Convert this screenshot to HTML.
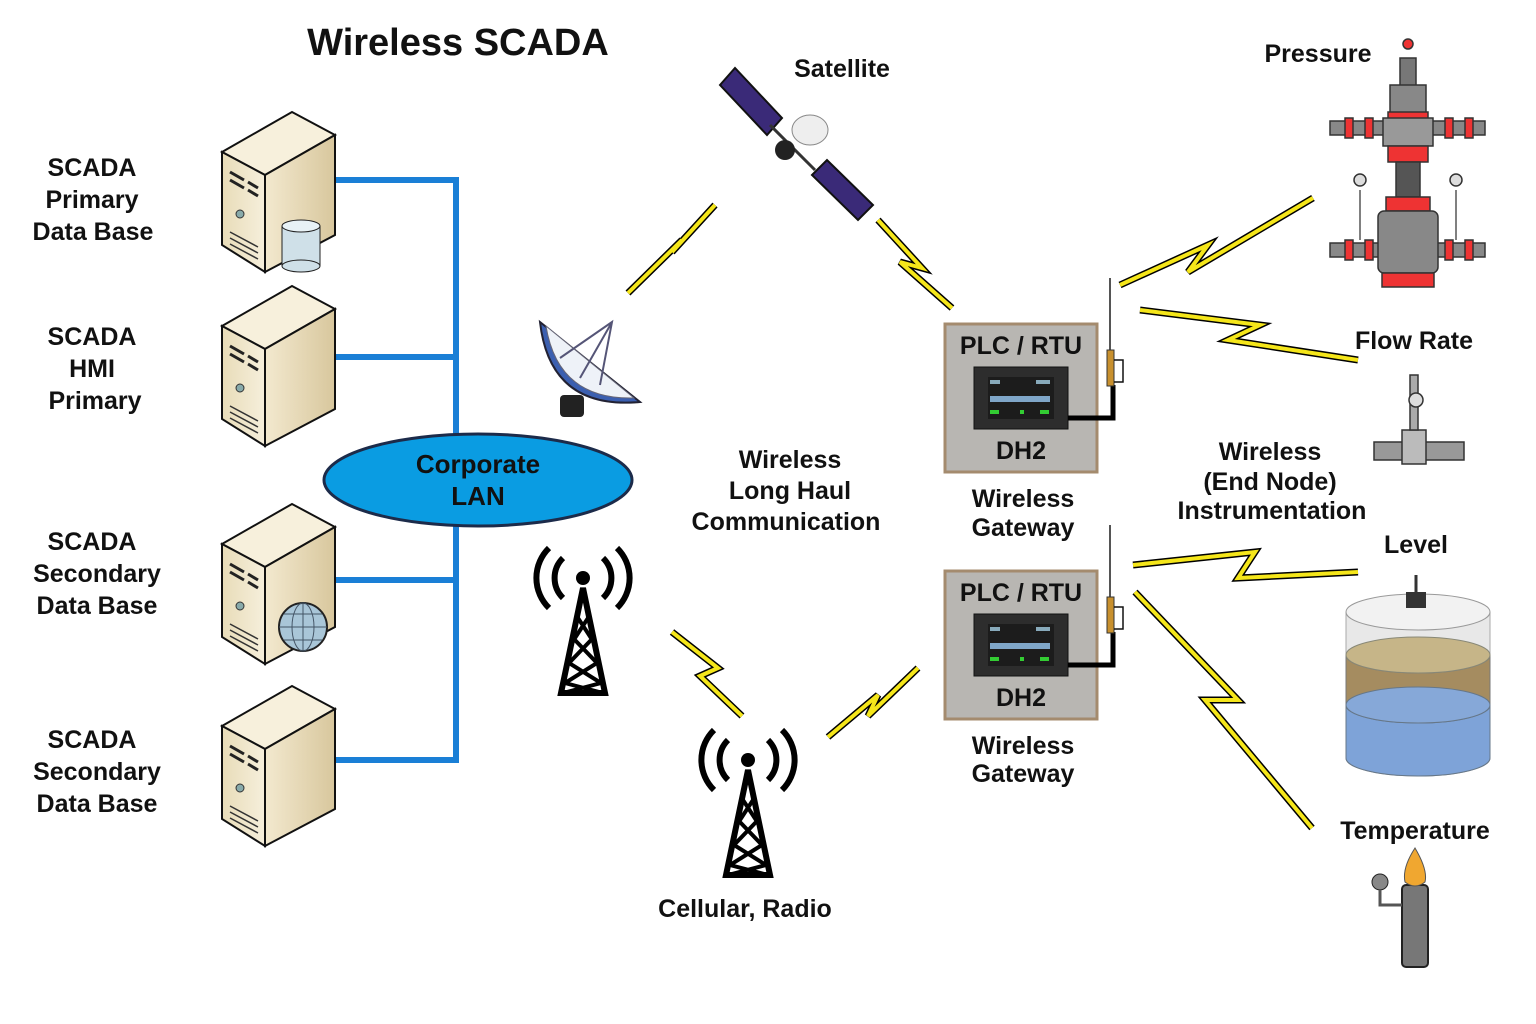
<!DOCTYPE html>
<html><head><meta charset="utf-8"><style>
html,body{margin:0;padding:0;background:#fff;}
svg{display:block;}
text{font-family:"Liberation Sans",sans-serif;font-weight:bold;fill:#111;}
</style></head><body>
<svg width="1536" height="1024" viewBox="0 0 1536 1024" xmlns="http://www.w3.org/2000/svg">
<defs>
<linearGradient id="sf" x1="0" x2="1"><stop offset="0" stop-color="#f3e9cf"/><stop offset="1" stop-color="#d8c79d"/></linearGradient>
<linearGradient id="sl" x1="0" x2="1"><stop offset="0" stop-color="#e8dcb8"/><stop offset="1" stop-color="#f6efdc"/></linearGradient>
<g id="srv">
<polygon points="222,152 292,112 335,135 265,175" fill="#f7f0dc" stroke="#111" stroke-width="2"/>
<polygon points="222,152 265,175 265,272 222,245" fill="url(#sl)" stroke="#111" stroke-width="2"/>
<polygon points="265,175 335,135 335,235 265,272" fill="url(#sf)" stroke="#111" stroke-width="2"/>
<path d="M230,172 l14,8 M230,180 l14,8 M248,182 l10,6 M248,190 l10,6" stroke="#222" stroke-width="3"/>
<circle cx="240" cy="214" r="4" fill="#8aa" stroke="#333"/>
<path d="M230,232 l28,15 M230,238 l28,15 M230,244 l28,15" stroke="#333" stroke-width="1.5"/>
</g>
<g id="plc">
<rect x="945" y="324" width="152" height="148" fill="#b8b6b2" stroke="#a48b6e" stroke-width="3"/>
<rect x="974" y="367" width="94" height="62" fill="#2d2d2d" stroke="#111"/>
<rect x="988" y="377" width="66" height="42" fill="#1c1c1c"/>
<rect x="990" y="396" width="60" height="6" fill="#7fa6c8"/>
<rect x="990" y="380" width="10" height="4" fill="#8ab"/><rect x="1036" y="380" width="14" height="4" fill="#8ab"/>
<rect x="990" y="410" width="9" height="4" fill="#3c3"/><rect x="1020" y="410" width="4" height="4" fill="#3c3"/><rect x="1040" y="410" width="9" height="4" fill="#3c3"/>
<text x="1021" y="354" font-size="25" text-anchor="middle">PLC / RTU</text>
<text x="1021" y="459" font-size="25" text-anchor="middle">DH2</text>
<path d="M1068,418 H1113 V385" stroke="#000" stroke-width="5" fill="none"/>
<line x1="1110" y1="278" x2="1110" y2="350" stroke="#555" stroke-width="2"/>
<rect x="1107" y="350" width="7" height="36" fill="#c8902e" stroke="#333"/>
<path d="M1114,360 h9 v22 h-9" stroke="#111" fill="none" stroke-width="1.5"/>
</g>
<g id="tower">
<polygon points="0,-5 -22,100 22,100" fill="none" stroke="#000" stroke-width="6"/>
<path d="M-10,45 L14,70 L-18,90 L20,100 M10,45 L-14,70 L18,90 L-20,100 M-5,25 L8,45 M5,25 L-8,45" stroke="#000" stroke-width="4" fill="none"/>
<circle cx="0" cy="-15" r="7" fill="#000"/>
<path d="M-20,-35 a28,28 0 0 0 0,40 M20,-35 a28,28 0 0 1 0,40 M-34,-45 a42,42 0 0 0 0,60 M34,-45 a42,42 0 0 1 0,60" stroke="#000" stroke-width="6" fill="none"/>
</g>
</defs>

<text x="458" y="55" font-size="38" text-anchor="middle">Wireless SCADA</text>

<path d="M335,180 H456 V760 H335 M335,357 H456 M335,580 H456" stroke="#1a7fd6" stroke-width="6" fill="none"/>
<use href="#srv"/>
<use href="#srv" transform="translate(0,174)"/>
<use href="#srv" transform="translate(0,392)"/>
<use href="#srv" transform="translate(0,574)"/>
<rect x="282" y="226" width="38" height="40" fill="#cfe0e8" stroke="#222"/>
<ellipse cx="301" cy="266" rx="19" ry="6" fill="#cfe0e8" stroke="#222"/>
<ellipse cx="301" cy="226" rx="19" ry="6" fill="#e8f2f6" stroke="#222"/>
<circle cx="303" cy="627" r="24" fill="#a9c6d8" stroke="#222" stroke-width="2"/>
<path d="M279,627 h48 M303,603 v48 M284,614 h38 M284,640 h38" stroke="#456" fill="none"/>
<ellipse cx="303" cy="627" rx="11" ry="24" fill="none" stroke="#456"/>

<ellipse cx="478" cy="480" rx="154" ry="46" fill="#0a9ce2" stroke="#1c2b4a" stroke-width="3"/>
<text x="478" y="473" font-size="26" text-anchor="middle">Corporate</text>
<text x="478" y="505" font-size="26" text-anchor="middle">LAN</text>

<g font-size="25" text-anchor="middle">
<text x="92" y="176">SCADA</text><text x="92" y="208">Primary</text><text x="93" y="240">Data Base</text>
<text x="92" y="345">SCADA</text><text x="92" y="377">HMI</text><text x="95" y="409">Primary</text>
<text x="92" y="550">SCADA</text><text x="97" y="582">Secondary</text><text x="97" y="614">Data Base</text>
<text x="92" y="748">SCADA</text><text x="97" y="780">Secondary</text><text x="97" y="812">Data Base</text>
<text x="790" y="468">Wireless</text><text x="790" y="499">Long Haul</text><text x="786" y="530">Communication</text>
<text x="842" y="77">Satellite</text>
<text x="745" y="917">Cellular, Radio</text>
<text x="1023" y="507">Wireless</text><text x="1023" y="536">Gateway</text>
<text x="1023" y="754">Wireless</text><text x="1023" y="782">Gateway</text>
<text x="1270" y="460">Wireless</text><text x="1270" y="490">(End Node)</text><text x="1272" y="519">Instrumentation</text>
<text x="1318" y="62">Pressure</text>
<text x="1414" y="349">Flow Rate</text>
<text x="1416" y="553">Level</text>
<text x="1415" y="839">Temperature</text>
</g>

<!-- satellite -->
<polygon points="720,85 735,68 782,118 767,135" fill="#3a2a78" stroke="#111" stroke-width="2"/>
<polygon points="812,175 827,160 873,205 858,220" fill="#3a2a78" stroke="#111" stroke-width="2"/>
<line x1="770" y1="125" x2="815" y2="170" stroke="#333" stroke-width="3"/>
<ellipse cx="810" cy="130" rx="18" ry="15" fill="#eee" stroke="#888"/>
<circle cx="785" cy="150" r="10" fill="#222"/>

<!-- dish -->
<path d="M540,322 Q550,410 640,402 Z" fill="#3b5fb0" stroke="#223" stroke-width="2"/>
<path d="M546,326 Q558,400 634,398 Z" fill="#eef2f8" stroke="#667"/>
<path d="M560,358 L612,322 L600,385 M612,322 L580,378" stroke="#557" stroke-width="2" fill="none"/>
<rect x="560" y="395" width="24" height="22" rx="4" fill="#222"/>

<use href="#tower" transform="translate(583,593)"/>
<use href="#tower" transform="translate(748,775)"/>

<use href="#plc"/>
<use href="#plc" transform="translate(0,247)"/>

<g fill="none" stroke-linejoin="miter">
<g stroke="#000" stroke-width="7">
<path d="M628,293 L682,240 L672,252 L715,205"/>
<path d="M878,220 L922,268 L900,262 L952,308"/>
<path d="M1120,285 L1208,245 L1188,272 L1313,198"/>
<path d="M1140,310 L1260,325 L1228,340 L1358,360"/>
<path d="M1133,565 L1255,552 L1238,578 L1358,572"/>
<path d="M1135,592 L1238,700 L1205,700 L1312,828"/>
<path d="M672,632 L718,668 L700,676 L742,716"/>
<path d="M828,737 L878,695 L868,716 L918,668"/>
</g>
<g stroke="#f5e61a" stroke-width="4">
<path d="M628,293 L682,240 L672,252 L715,205"/>
<path d="M878,220 L922,268 L900,262 L952,308"/>
<path d="M1120,285 L1208,245 L1188,272 L1313,198"/>
<path d="M1140,310 L1260,325 L1228,340 L1358,360"/>
<path d="M1133,565 L1255,552 L1238,578 L1358,572"/>
<path d="M1135,592 L1238,700 L1205,700 L1312,828"/>
<path d="M672,632 L718,668 L700,676 L742,716"/>
<path d="M828,737 L878,695 L868,716 L918,668"/>
</g>
</g>

<!-- pressure wellhead -->
<g stroke="#333" stroke-width="1.5">
<rect x="1330" y="121" width="155" height="14" fill="#888"/>
<rect x="1330" y="243" width="155" height="14" fill="#888"/>
<rect x="1345" y="118" width="8" height="20" fill="#e33"/><rect x="1365" y="118" width="8" height="20" fill="#e33"/>
<rect x="1445" y="118" width="8" height="20" fill="#e33"/><rect x="1465" y="118" width="8" height="20" fill="#e33"/>
<rect x="1345" y="240" width="8" height="20" fill="#e33"/><rect x="1365" y="240" width="8" height="20" fill="#e33"/>
<rect x="1445" y="240" width="8" height="20" fill="#e33"/><rect x="1465" y="240" width="8" height="20" fill="#e33"/>
<rect x="1400" y="58" width="16" height="30" fill="#777"/>
<rect x="1390" y="85" width="36" height="35" fill="#888"/>
<rect x="1388" y="112" width="40" height="8" fill="#e33"/>
<rect x="1383" y="118" width="50" height="28" fill="#999"/>
<rect x="1388" y="146" width="40" height="16" fill="#e33"/>
<rect x="1396" y="162" width="24" height="35" fill="#555"/>
<rect x="1386" y="197" width="44" height="14" fill="#e33"/>
<rect x="1378" y="211" width="60" height="62" rx="6" fill="#888"/>
<rect x="1382" y="273" width="52" height="14" fill="#e33"/>
<circle cx="1408" cy="44" r="5" fill="#e33"/>
<line x1="1360" y1="190" x2="1360" y2="240" stroke="#555"/><circle cx="1360" cy="180" r="6" fill="#ddd"/>
<line x1="1456" y1="190" x2="1456" y2="240" stroke="#555"/><circle cx="1456" cy="180" r="6" fill="#ddd"/>
</g>
<g stroke="#333" stroke-width="1.5">
<rect x="1374" y="442" width="90" height="18" fill="#999"/>
<rect x="1402" y="430" width="24" height="34" fill="#bbb"/>
<rect x="1410" y="375" width="8" height="55" fill="#aaa"/>
<circle cx="1416" cy="400" r="7" fill="#ddd"/>
</g>
<path d="M1346,612 V758 A72,18 0 0 0 1490,758 V612" fill="#e8e8e8" stroke="#aaa"/>
<path d="M1346,655 V705 A72,18 0 0 0 1490,705 V655 A72,18 0 0 1 1346,655 Z" fill="#a58c60" stroke="#777"/>
<path d="M1346,705 V758 A72,18 0 0 0 1490,758 V705 A72,18 0 0 1 1346,705 Z" fill="#7ea3d8" stroke="#678"/>
<ellipse cx="1418" cy="655" rx="72" ry="18" fill="#c6b588" stroke="#887"/>
<ellipse cx="1418" cy="705" rx="72" ry="18" fill="#86a8d8" stroke="#678"/>
<ellipse cx="1418" cy="612" rx="72" ry="18" fill="#f2f2f2" stroke="#999"/>
<rect x="1406" y="592" width="20" height="16" fill="#333"/>
<line x1="1416" y1="575" x2="1416" y2="592" stroke="#333" stroke-width="3"/>
<rect x="1402" y="885" width="26" height="82" rx="4" fill="#777" stroke="#222" stroke-width="2"/>
<path d="M1415,848 Q1428,870 1425,882 Q1415,890 1405,882 Q1402,868 1415,848Z" fill="#f0a730" stroke="#555"/>
<circle cx="1380" cy="882" r="8" fill="#888" stroke="#222"/>
<path d="M1380,890 V905 H1402" stroke="#555" stroke-width="3" fill="none"/>
</svg>
</body></html>
